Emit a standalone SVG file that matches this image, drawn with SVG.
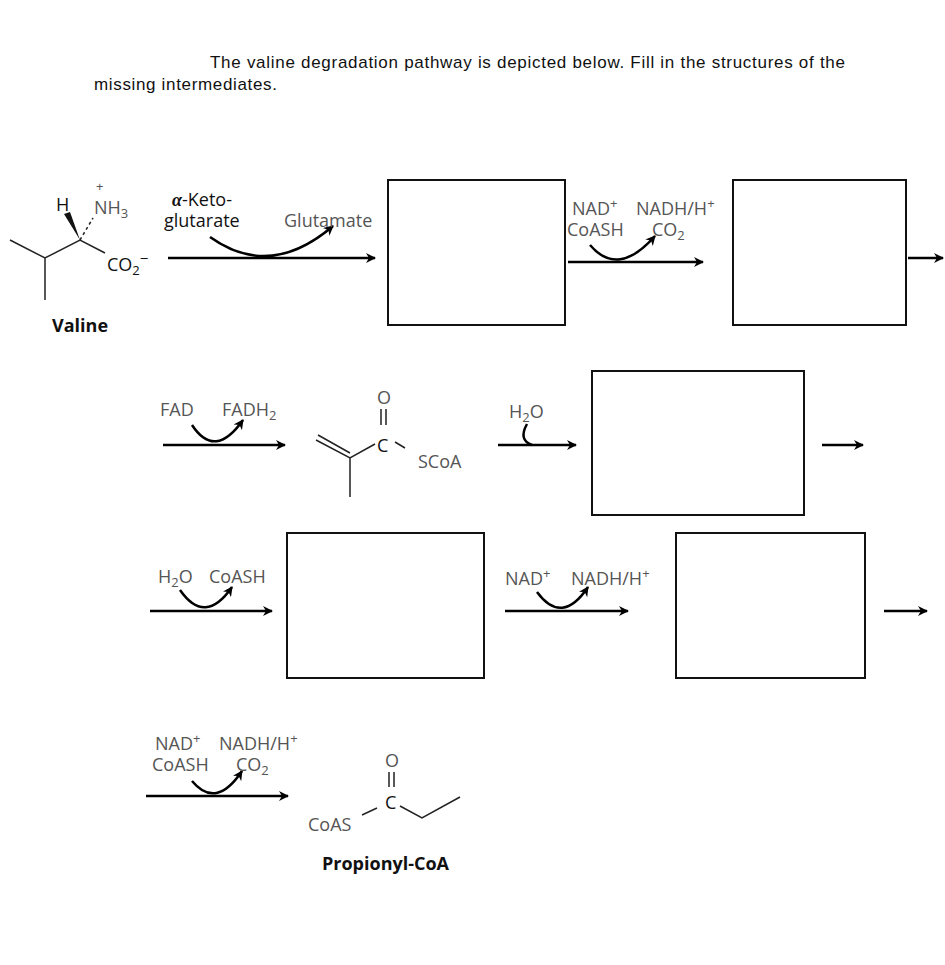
<svg xmlns="http://www.w3.org/2000/svg" width="945" height="965" viewBox="0 0 945 965">
<defs>
<marker id="ah" viewBox="0 0 10 10" refX="9" refY="5" markerWidth="10" markerHeight="10" markerUnits="userSpaceOnUse" orient="auto"><path d="M0,0 L10,5 L0,10 L3,5 Z" fill="#000"/></marker>
<style>
.t{font-family:"Liberation Sans",Arial,sans-serif;font-size:17px;fill:#111}
.g{font-family:"Open Sans","Liberation Sans",sans-serif;font-size:18px;fill:#555}
.k{font-family:"Open Sans","Liberation Sans",sans-serif;font-size:18px;fill:#111}
.b{font-family:"Open Sans","Liberation Sans",sans-serif;font-size:18px;font-weight:bold;fill:#111}
.s{font-size:13px}
.bx{fill:#fff;stroke:#111;stroke-width:2}
.ar{stroke:#000;stroke-width:2.5;fill:none;marker-end:url(#ah)}
.cv{stroke:#000;stroke-width:2.5;fill:none}
.bd{stroke:#222;stroke-width:1.5;fill:none}
</style>
</defs>
<rect width="945" height="965" fill="#fff"/>
<text class="t" x="210" y="68" textLength="635" lengthAdjust="spacing">The valine degradation pathway is depicted below.  Fill in the structures of the</text>
<text class="t" x="94" y="90" textLength="183" lengthAdjust="spacing">missing intermediates.</text>

<g id="valine">
<path class="bd" d="M10,240 L45,258 L80,240 L105,253 M45,258 L45,300"/>
<path d="M80,240 L64,214 L70,212 Z" fill="#111"/>
<path d="M80,240 L93,218" stroke="#222" stroke-width="1.5" stroke-dasharray="3,3"/>
<text class="k" x="56" y="211">H</text>
<text class="g" x="94" y="214">NH<tspan class="s" dy="4">3</tspan></text>
<text class="g" x="96" y="191" style="font-size:13px">+</text>
<text class="k" x="107" y="271">CO<tspan class="s" dy="4">2</tspan><tspan dy="-11" font-size="15">−</tspan></text>
<text class="b" x="52" y="332">Valine</text>
</g>

<g id="connectors">
<path class="ar" d="M168,258 L375,258"/>
<path class="ar" d="M210,237 Q270,280 333,226"/>
<path class="ar" d="M568,262 L703,262"/>
<path class="ar" d="M590,245 Q618,278 655,236"/>
<path class="ar" d="M908,258 L943,258"/>
<path class="ar" d="M163,445 L285,445"/>
<path class="ar" d="M192,425 Q215,460 243,420"/>
<path class="ar" d="M498,445 L576,445"/>
<path class="cv" d="M527,424 Q518,440 532,445"/>
<path class="ar" d="M822,445 L863,445"/>
<path class="ar" d="M150,611 L272,611"/>
<path class="ar" d="M180,590 Q205,626 232,587"/>
<path class="ar" d="M505,611 L628,611"/>
<path class="ar" d="M537,592 Q562,626 588,587"/>
<path class="ar" d="M884,611 L927,611"/>
<path class="ar" d="M146,796 L288,796"/>
<path class="ar" d="M192,781 Q216,810 242,771"/>
</g>

<g id="step1-labels">
<text class="k" x="172" y="206"><tspan font-family="Liberation Serif" font-style="italic" font-weight="bold">α</tspan>-Keto-</text>
<text class="k" x="164" y="227">glutarate</text>
<text class="g" x="284" y="227">Glutamate</text>
</g>
<g id="box1"><rect class="bx" x="388" y="180" width="177" height="145"/></g>
<g id="step2-labels">
<text class="g" x="572" y="215">NAD<tspan class="s" dy="-7">+</tspan><tspan x="636" dy="7">NADH/H</tspan><tspan class="s" dy="-7">+</tspan></text>
<text class="g" x="567" y="236">CoASH<tspan x="652">CO</tspan><tspan class="s" dy="4">2</tspan></text>
</g>
<g id="box2"><rect class="bx" x="733" y="180" width="173" height="145"/></g>

<g id="step3-labels">
<text class="g" x="160" y="416">FAD<tspan x="222">FADH</tspan><tspan class="s" dy="4">2</tspan></text>
</g>
<g id="methacrylyl">
<path class="bd" d="M316,440 L350,458 L375,444 M318,435 L350,453 M350,458 L350,497 M395,442 L405,448 M381,409 L381,425 M386,409 L386,425"/>
<text class="g" x="377" y="404">O</text>
<text class="k" x="377" y="452">C</text>
<text class="g" x="418" y="468">SCoA</text>
</g>
<g id="step4-labels"><text class="g" x="509" y="418">H<tspan class="s" dy="4">2</tspan><tspan dy="-4">O</tspan></text></g>
<g id="box3"><rect class="bx" x="592" y="371" width="212" height="144"/></g>

<g id="step5-labels"><text class="g" x="158" y="583">H<tspan class="s" dy="4">2</tspan><tspan dy="-4">O</tspan><tspan x="209">CoASH</tspan></text></g>
<g id="box4"><rect class="bx" x="287" y="533" width="197" height="145"/></g>
<g id="step6-labels"><text class="g" x="505" y="585">NAD<tspan class="s" dy="-7">+</tspan><tspan x="571" dy="7">NADH/H</tspan><tspan class="s" dy="-7">+</tspan></text></g>
<g id="box5"><rect class="bx" x="676" y="533" width="189" height="145"/></g>

<g id="step7-labels">
<text class="g" x="155" y="750">NAD<tspan class="s" dy="-7">+</tspan><tspan x="219" dy="7">NADH/H</tspan><tspan class="s" dy="-7">+</tspan></text>
<text class="g" x="152" y="771">CoASH<tspan x="236">CO</tspan><tspan class="s" dy="4">2</tspan></text>
</g>
<g id="propionyl">
<path class="bd" d="M362,815 L377,808 M400,806 L422,818 L460,797 M389,772 L389,787 M394,772 L394,787"/>
<text class="g" x="385" y="767">O</text>
<text class="k" x="385" y="809">C</text>
<text class="g" x="308" y="831">CoAS</text>
<text class="b" x="322" y="870">Propionyl-CoA</text>
</g>
</svg>
